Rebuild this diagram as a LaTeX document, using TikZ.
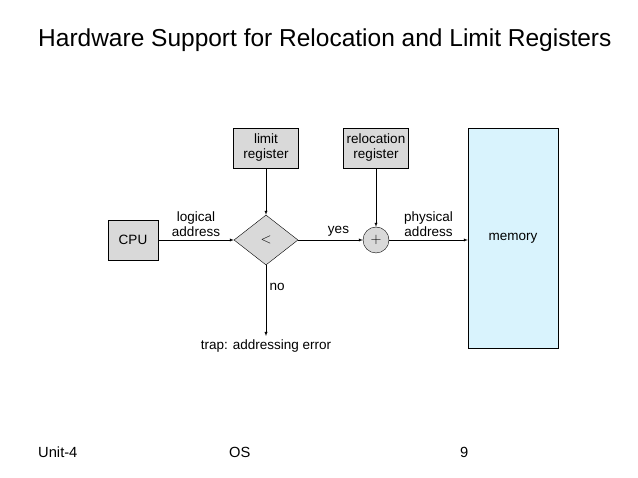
\documentclass[tikz,border=0pt]{standalone}
\usepackage{fontspec}
\setmainfont{Liberation Sans}
\usetikzlibrary{shapes.geometric}
\begin{document}
\begin{tikzpicture}[x=1pt,y=-1pt,>=latex,
  reg/.style={draw,fill=gray!30,minimum width=65pt,minimum height=40pt,align=center,font=\fontsize{13.5}{15}\selectfont,inner sep=1pt},
  lbl/.style={font=\fontsize{13.5}{15}\selectfont,align=center}]
  % Margenes
  \useasboundingbox (0,0) rectangle (638,478);

  % Titulo
  \node[anchor=base west,inner sep=0pt,font=\fontsize{24.5}{28}\selectfont] (title) at (38,47) {Hardware Support for Relocation and Limit Registers};

  % Cajas
  \node[reg,minimum width=50pt] (cpu) at (133,240) {CPU};
  \node[reg] (limit) at (266,148) {limit\\register};
  \node[reg] (reloc) at (376,148) {relocation\\register};
  \node[draw,fill=cyan!15,minimum width=90pt,minimum height=220pt,lbl] (mem) at (513,238) {memory};
  \node[draw,diamond,fill=gray!30,minimum width=64pt,minimum height=50pt,inner sep=0pt,lbl] (cmp) at (266,240) {$<$};
  \node[draw,circle,fill=gray!30,minimum size=26pt,inner sep=0pt,lbl] (add) at (376,240) {$+$};
  \coordinate (trap) at (266,336);

  % Conexiones
  \draw[->] (cpu) -- node[lbl,above] {logical\\address} (cmp);
  \draw[->] (limit) -- (cmp);
  \draw[->] (cmp) -- node[lbl,above,xshift=8pt] {yes} (add);
  \draw[->] (reloc) -- (add);
  \draw[->] (add) -- node[lbl,above] {physical\\address} (mem.west |- add);
  \draw[->] (cmp) -- node[lbl,right,pos=0.3] {no} (trap);
  \node[lbl,anchor=north] (err) at (trap) {trap: addressing error};

  % Pie
  \node[anchor=base west,inner sep=0pt,font=\fontsize{14.7}{16}\selectfont] (unit) at (38,458) {Unit-4};
  \node[anchor=base west,inner sep=0pt,font=\fontsize{14.7}{16}\selectfont] (os) at (229,458) {OS};
  \node[anchor=base west,inner sep=0pt,font=\fontsize{14.7}{16}\selectfont] (pg) at (460,458) {9};
\end{tikzpicture}
\end{document}
